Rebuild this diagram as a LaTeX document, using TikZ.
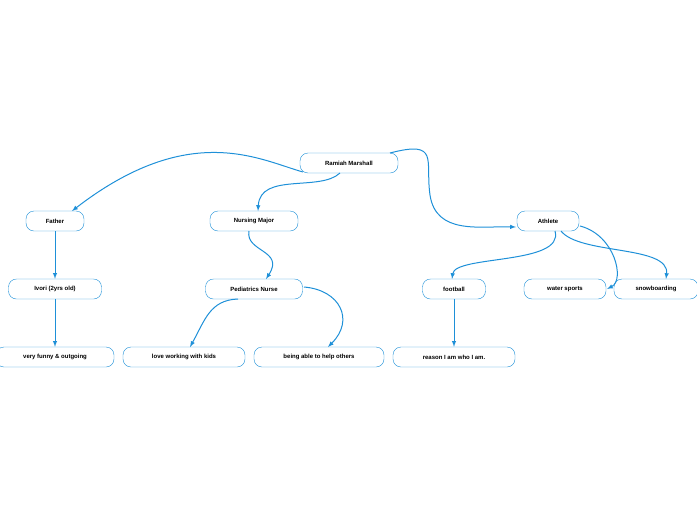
\documentclass[tikz,border=0pt]{standalone}
\usepackage{fontspec}
\setmainfont{Liberation Sans}
\begin{document}
\begin{tikzpicture}[x=1pt,y=-1pt,
  box/.style={draw=blue1,rounded corners=8pt,minimum height=20pt,inner sep=0pt,font=\fontsize{6}{8}\selectfont\bfseries,fill=white},
  conn/.style={draw=blue1,line width=1pt,-latex}]
\definecolor{blue1}{HTML}{1E90D8}
\useasboundingbox (0,0) rectangle (697,520);
\node[box,minimum width=98pt] (r) at (349,163) {Ramiah Marshall};
\node[box,minimum width=58pt] (f) at (55,221) {Father};
\node[box,minimum width=88pt] (n) at (254,221) {Nursing Major};
\node[box,minimum width=62pt] (a) at (548,221) {Athlete};
\node[box,minimum width=93pt] (i) at (55,289) {Ivori (2yrs old)};
\node[box,minimum width=97pt] (p) at (254,289) {Pediatrics Nurse};
\node[box,minimum width=63pt] (fb) at (454,289) {football};
\node[box,minimum width=82pt] (w) at (565,289) {water sports};
\node[box,minimum width=84pt] (s) at (656,289) {snowboarding};
\node[box,minimum width=118pt] (v) at (55,357) {very funny \& outgoing};
\node[box,minimum width=122pt] (l) at (184,357) {love working with kids};
\node[box,minimum width=130pt] (b) at (319,357) {being able to help others};
\node[box,minimum width=122pt] (re) at (454,357) {reason I am who I am.};
\draw[conn] (303,172) .. controls (260,160) and (190,120) .. (72,211);
\draw[conn] (340,173) .. controls (320,192) and (260,172) .. (258,211);
\draw[conn] (390,153) .. controls (440,140) and (425,160) .. (430,195) .. controls (436,235) and (480,226) .. (516,227);
\draw[conn] (f) -- (i);
\draw[conn] (i) -- (v);
\draw[conn] (249,231) .. controls (245,252) and (285,250) .. (266,279);
\draw[conn] (238,299) .. controls (210,300) and (205,320) .. (190,347);
\draw[conn] (304,287) .. controls (340,290) and (355,320) .. (328,347);
\draw[conn] (555,231) .. controls (565,265) and (455,255) .. (452,279);
\draw[conn] (580,226) .. controls (615,235) and (625,280) .. (607,289);
\draw[conn] (561,231) .. controls (580,255) and (670,245) .. (666,279);
\draw[conn] (fb) -- (re);
\end{tikzpicture}
\end{document}
